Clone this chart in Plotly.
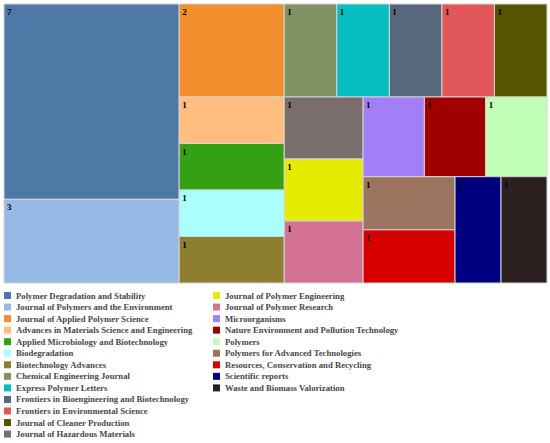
import plotly.graph_objects as go

W, H = 550, 443

# Journals and number of papers
JOURNALS = [
    "Polymer Degradation and Stability",
    "Journal of Polymers and the Environment",
    "Journal of Applied Polymer Science",
    "Advances in Materials Science and Engineering",
    "Applied Microbiology and Biotechnology",
    "Biodegradation",
    "Biotechnology Advances",
    "Chemical Engineering Journal",
    "Express Polymer Letters",
    "Frontiers in Bioengineering and Biotechnology",
    "Frontiers in Environmental Science",
    "Journal of Cleaner Production",
    "Journal of Hazardous Materials",
    "Journal of Polymer Engineering",
    "Journal of Polymer Research",
    "Microorganisms",
    "Nature Environment and Pollution Technology",
    "Polymers",
    "Polymers for Advanced Technologies",
    "Resources, Conservation and Recycling",
    "Scientific reports",
    "Waste and Biomass Valorization",
]
COUNTS = [7, 3, 2, 1, 1, 1, 1, 1, 1, 1, 1, 1, 1, 1, 1, 1, 1, 1, 1, 1, 1, 1]
COLORS = [
    "#4e79a7", "#97b9e7", "#f28e2b", "#ffbe7d", "#33a113", "#aaffff",
    "#8e7e2f", "#7f9364", "#06bdc0", "#57677e", "#e15759", "#565400",
    "#796e6b", "#e6ec00", "#d37295", "#a27ff6", "#a00000", "#c2ffb6",
    "#9b7460", "#d60000", "#000080", "#2c1f1f",
]

# legend split in two columns
LEFT_ROWS = 13


def px(x, y):
    """pixel position -> paper coordinates"""
    return x / W, 1 - y / H


fig = go.Figure()

fig.add_trace(go.Treemap(
    labels=JOURNALS,
    parents=[""] * len(JOURNALS),
    values=COUNTS,
    sort=True,
    texttemplate="%{value}",
    textposition="top left",
    textfont=dict(family="Liberation Serif", size=9, color="black", weight="bold"),
    marker=dict(colors=COLORS, line=dict(width=1, color="#d4d4d4"), pad=dict(t=0, l=0, r=0, b=0)),
    tiling=dict(packing="squarify", squarifyratio=1.5, pad=0),
    pathbar=dict(visible=False),
    hoverinfo="label+value",
    domain=dict(x=[4 / W, 547 / W], y=[1 - 283 / H, 1 - 4 / H]),
))

# legend drawn below the treemap, two columns
shapes = []
annotations = []
for i, (name, color) in enumerate(zip(JOURNALS, COLORS)):
    col, row = divmod(i, LEFT_ROWS)
    x0 = 4 if col == 0 else 213
    yc = 295.5 + row * 11.55
    xa, ya = px(x0, yc - 3.5)
    xb, yb = px(x0 + 7, yc + 3.5)
    shapes.append(dict(type="rect", xref="paper", yref="paper",
                       x0=xa, x1=xb, y0=yb, y1=ya,
                       fillcolor=color, line=dict(width=0)))
    tx, ty = px(x0 + 10, yc)
    annotations.append(dict(text=name, xref="paper", yref="paper",
                            x=tx, y=ty, xanchor="left", yanchor="middle",
                            showarrow=False,
                            font=dict(family="Liberation Serif", size=8.7,
                                      color="#474747", weight="bold")))

fig.update_layout(
    width=W,
    height=H,
    margin=dict(l=0, r=0, t=0, b=0),
    paper_bgcolor="white",
    shapes=shapes,
    annotations=annotations,
)

# page body has a default 8px margin, drop it so the figure fills the window
fig.write_html("out.html", config={"displayModeBar": False},
               post_script="document.body.style.margin = '0';")
